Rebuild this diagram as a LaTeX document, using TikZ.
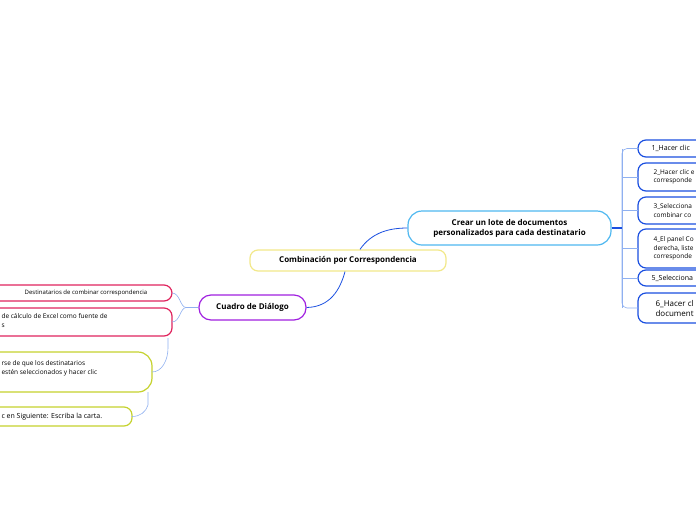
\documentclass[tikz,border=0pt]{standalone}
\usepackage{fontspec}
\setmainfont{Open Sans}
\begin{document}
\begin{tikzpicture}[x=1pt,y=-1pt,
 box/.style={draw,rounded corners=8pt,line width=1.2pt,fill=white,inner sep=0pt},
 conn/.style={draw=#1,line width=0.8pt},
 lbl/.style={font=\fontsize{7}{9}\selectfont,align=left,anchor=west}]
\useasboundingbox (0,0) rectangle (696,520);
\clip (0,0) rectangle (696,520);
\definecolor{cblue}{HTML}{1A4FE0}
\definecolor{lblue}{HTML}{8FB0F0}
\definecolor{cyanb}{HTML}{4FB8F0}
\definecolor{ylw}{HTML}{F2E88A}
\definecolor{purp}{HTML}{A020E0}
\definecolor{crim}{HTML}{E0245E}
\definecolor{lgreen}{HTML}{C5D22E}
% main nodes
\node[box,draw=ylw,minimum width=196pt,minimum height=21pt,font=\bfseries\fontsize{8}{10}\selectfont] (c) at (348,260.5) {Combinación por Correspondencia};
\node[box,draw=cyanb,minimum width=203pt,minimum height=34pt,rounded corners=14pt,font=\bfseries\fontsize{8}{10}\selectfont,align=center] (r) at (509.5,228) {Crear un lote de documentos\\personalizados para cada destinatario};
\node[box,draw=purp,minimum width=107pt,minimum height=25pt,rounded corners=12pt,font=\bfseries\fontsize{8}{10}\selectfont] (q) at (252.5,307.5) {Cuadro de Diálogo};
\draw[conn=cblue] (c.north)++(12,0) coordinate (ct) .. controls (372,232) and (390,228) .. (r.west);
\draw[conn=cblue] (c.south)++(-3,0) coordinate (cb) .. controls (340,290) and (330,307) .. (q.east);
% right children
\draw[box,draw=cblue] (638,140) rectangle (720,157) coordinate[pos=0] (r1);
\node[lbl] (t1) at (648,148.5) {1\_Hacer clic};
\draw[box,draw=cblue] (638,163) rectangle (720,191);
\node[lbl,font=\fontsize{6.5}{8.5}\selectfont] (t2) at (650,177) {2\_Hacer clic e\\corresponde};
\draw[box,draw=cblue] (638,197) rectangle (720,224);
\node[lbl,font=\fontsize{6.5}{8.5}\selectfont] (t3) at (650,210.5) {3\_Selecciona\\combinar co};
\draw[box,draw=cblue] (638,229) rectangle (720,268);
\node[lbl,font=\fontsize{6.5}{8.5}\selectfont] (t4) at (650,248.5) {4\_El panel Co\\derecha, liste\\corresponde};
\draw[box,draw=cblue] (638,270) rectangle (720,286);
\node[lbl] (t5) at (648,278) {5\_Selecciona};
\draw[box,draw=cblue] (638,293) rectangle (720,323);
\node[lbl,font=\fontsize{8}{10}\selectfont,align=center] (t6) at (652,308) {6\_Hacer cl\\document};
\draw[line width=1.6pt,cblue] (r.east) -- (622,228) coordinate (tr);
\foreach \y in {148.5,177,210.5,248.5,278,308}{
 \draw[conn=lblue,line width=0.6pt] (tr) -- (622,\y+(0) ;
}
\draw[lblue,line width=0.6pt,rounded corners=5pt] (638,148.5) -- (622,148.5) -- (622,308) -- (638,308);
\foreach \y in {177,210.5,248.5,278}{\draw[lblue,line width=0.6pt] (622,\y) -- (638,\y);}
\draw[line width=1.6pt,cblue] (r.east) -- (tr);
% left children
\draw[box,draw=crim] (-20,285) rectangle (172,301);
\node[font=\fontsize{6}{8}\selectfont] (a) at (86,293) {Destinatarios de combinar correspondencia};
\draw[box,draw=crim] (-20,308) rectangle (172,336);
\node[lbl,font=\fontsize{6.5}{9}\selectfont] (b) at (-2,321) {de cálculo de Excel como fuente de\\s};
\draw[box,draw=lgreen,rounded corners=14pt] (-30,352) rectangle (152,392);
\node[lbl,font=\fontsize{6.5}{9}\selectfont] (g) at (-2,372) {rse de que los destinatarios\\estén seleccionados y hacer clic\\\mbox{}};
\draw[box,draw=lgreen] (-20,407) rectangle (132,426);
\node[lbl,font=\fontsize{7}{9}\selectfont] (h) at (-2,416.5) {c en Siguiente: Escriba la carta.};
\draw[lblue,line width=0.6pt] (q.west) -- (186,307.5) coordinate (ql);
\draw[lblue,line width=0.6pt] (ql) .. controls (180,307) and (180,293) .. (172,293);
\draw[lblue,line width=0.6pt] (ql) .. controls (180,308) and (180,322) .. (172,322);
\draw[lblue,line width=0.6pt] (168,338) -- (168,348) .. controls (168,360) and (162,372) .. (152,372);
\draw[lblue,line width=0.6pt] (148,392) -- (148,405) .. controls (146,412) and (140,416.5) .. (132,416.5);
\end{tikzpicture}
\end{document}
